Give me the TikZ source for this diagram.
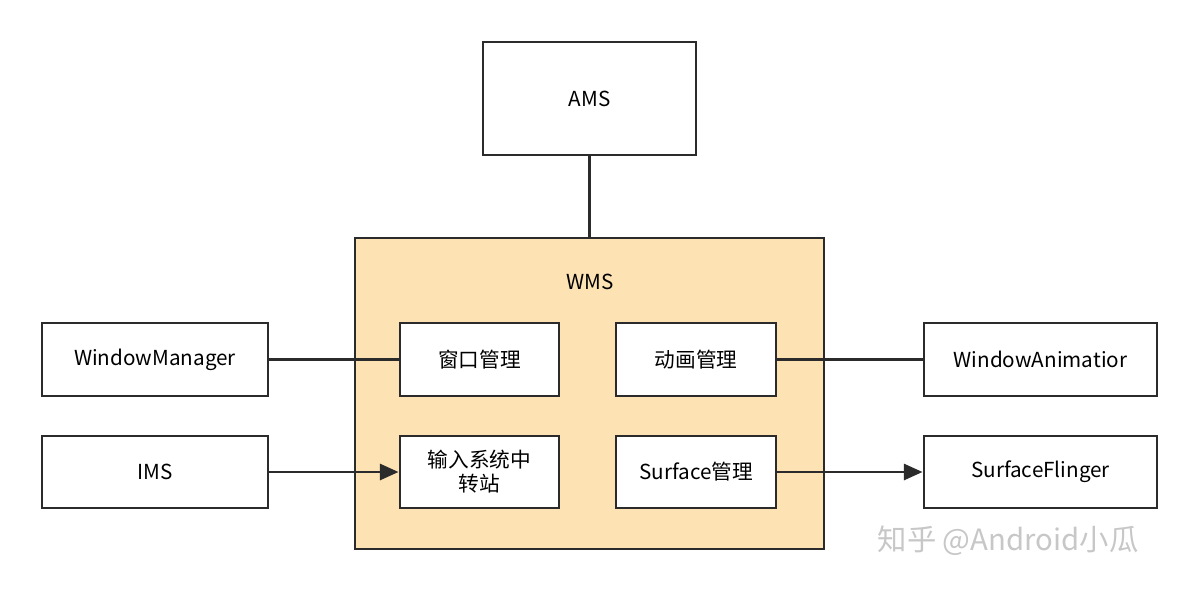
\documentclass[tikz,border=0pt]{standalone}
\usepackage{fontspec}
\setmainfont{Noto Sans CJK SC}
\usetikzlibrary{arrows.meta}
\definecolor{wmsfill}{HTML}{FDE2B4}
\definecolor{edge}{HTML}{2B2B2B}
\begin{document}
\begin{tikzpicture}[x=0.75pt,y=-0.75pt,
  box/.style={draw=edge,line width=2.2pt,fill=white,inner sep=0pt,font=\fontsize{15.5}{18}\selectfont,align=center},
  conn/.style={draw=edge,line width=2.2pt},
  arr/.style={conn,-{Triangle[length=14pt,width=12pt]}}]
\useasboundingbox (0,0) rectangle (1200,592);
\node[draw=edge,line width=2.2pt,fill=wmsfill,minimum width=469*0.75pt,minimum height=311*0.75pt] (wms) at (589.5,393.5) {};
\node[font=\fontsize{15.5}{18}\selectfont] (wmsl) at (590,282) {WMS};
\node[box,minimum width=213*0.75pt,minimum height=113*0.75pt] (ams) at (589.5,98.5) {AMS};
\node[box,minimum width=226*0.75pt,minimum height=73*0.75pt] (wm) at (155,359.5) {WindowManager};
\node[box,minimum width=226*0.75pt,minimum height=72*0.75pt] (ims) at (155,472) {IMS};
\node[box,minimum width=159*0.75pt,minimum height=73*0.75pt] (ck) at (479.5,359.5) {窗口管理};
\node[box,minimum width=159*0.75pt,minimum height=72*0.75pt] (sr) at (479.5,472) {输入系统中\\转站};
\node[box,minimum width=160*0.75pt,minimum height=73*0.75pt] (dh) at (696,359.5) {动画管理};
\node[box,minimum width=160*0.75pt,minimum height=72*0.75pt] (sf) at (696,472) {Surface管理};
\node[box,minimum width=233*0.75pt,minimum height=73*0.75pt] (wa) at (1040.5,359.5) {WindowAnimatior};
\node[box,minimum width=233*0.75pt,minimum height=72*0.75pt] (fl) at (1040.5,472) {SurfaceFlinger};
\draw[conn] (ams.south) -- (wms.north);
\draw[conn] (wm.east) -- (ck.west);
\draw[arr] (ims.east) -- (sr.west);
\draw[conn] (dh.east) -- (wa.east -| wa.west);
\draw[arr] (sf.east) -- (fl.west);
\node[text=black!22,font=\fontsize{22}{26}\selectfont] (wmk) at (1008,541) {知乎 @Android小瓜};
\end{tikzpicture}
\end{document}
